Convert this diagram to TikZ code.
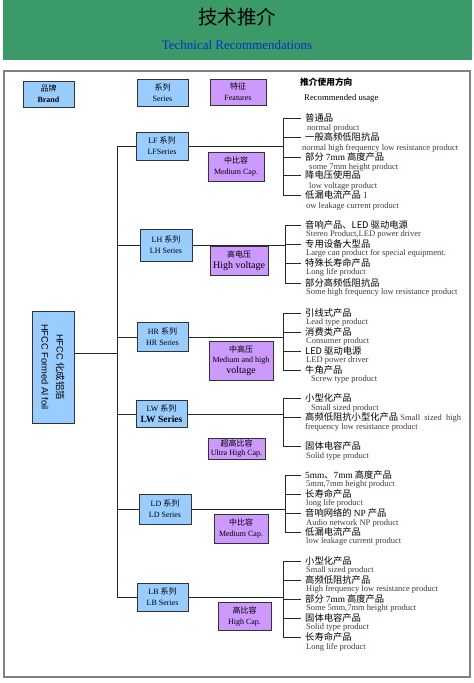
\documentclass[tikz,border=0pt]{standalone}
\usepackage{fontspec}
\setmainfont{Liberation Serif}
\setsansfont{Liberation Sans}
\newfontfamily\cjk{Noto Sans CJK SC}
\definecolor{bandeau}{RGB}{58,154,104}
\definecolor{titrebleu}{RGB}{0,51,204}
\definecolor{bleu}{RGB}{153,204,255}
\definecolor{mauve}{RGB}{204,153,255}
\definecolor{brun}{RGB}{72,56,46}
\begin{document}
\begin{tikzpicture}[x=1pt,y=-1pt]
\tikzset{serie/.style={draw=black!80, fill=bleu, line width=0.8pt, inner sep=0pt, align=center, font=\fontsize{8}{11}\selectfont}}
\tikzset{carac/.style={draw=black!80, fill=mauve, line width=0.8pt, inner sep=0pt, align=center, font=\fontsize{8}{11}\selectfont}}
\tikzset{zh/.style={anchor=west, inner sep=0pt, font=\cjk\fontsize{9.3}{10}\selectfont}}
\tikzset{en/.style={anchor=west, inner sep=0pt, text=brun, font=\fontsize{8.5}{9}\selectfont}}
\tikzset{trait/.style={line width=1pt, black!85}}
\tikzset{tic/.style={trait, shorten >=4pt}}
\useasboundingbox (0,0) rectangle (474,683);
\fill[bandeau] (3,0) rectangle (472,60);
\draw[black!50, line width=1.4pt] (4,71) rectangle (470,677);
\node[font=\cjk\fontsize{19.5}{20}\selectfont] (titre) at (237,17) {技术推介};
\node[text=titrebleu, font=\fontsize{13}{14}\selectfont] (soustitre) at (237,45) {Technical Recommendations};
\node[serie, minimum width=51pt, minimum height=26pt] (marque) at (48.5,94) {{\cjk 品牌}\\\textbf{Brand}};
\node[serie, minimum width=51pt, minimum height=27pt] (series) at (162.5,92.5) {{\cjk 系列}\\Series};
\node[carac, minimum width=56pt, minimum height=26pt] (traits) at (238,92) {{\cjk 特征}\\Features};
\node[zh, font=\cjk\bfseries\fontsize{8.7}{9}\selectfont] (usage) at (300,82) {推介使用方向};
\node[en, text=black, font=\fontsize{8.7}{9}\selectfont] (usageen) at (304,98) {Recommended usage};
\node[serie, rotate=-90, minimum width=112pt, minimum height=42pt, font=\sffamily\fontsize{9.3}{15}\selectfont] (HFCC) at (53,367) {HFCC {\cjk 化成铝箔}\\HFCC Formed Al foil};
\coordinate (tronc) at (117,353);
\node[serie, minimum width=52pt, minimum height=28pt] (LF) at (162,146) {LF {\cjk 系列}\\LFSeries};
\node[serie, minimum width=52pt, minimum height=32pt] (LH) at (166,245) {LH {\cjk 系列}\\LH Series};
\node[serie, minimum width=51pt, minimum height=29pt] (HR) at (162.5,337) {HR {\cjk 系列}\\HR Series};
\node[serie, minimum width=51pt, minimum height=27pt] (LW) at (161.5,414) {LW {\cjk 系列}\\{\fontsize{9.5}{11}\selectfont\bfseries LW Series}};
\node[serie, minimum width=52pt, minimum height=30pt] (LD) at (165,509) {LD {\cjk 系列}\\LD Series};
\node[serie, minimum width=51pt, minimum height=28pt] (LB) at (162.5,597) {LB {\cjk 系列}\\LB Series};
\node[carac, minimum width=56pt, minimum height=29pt] (LFc) at (236,166.5) {{\cjk 中比容}\\Medium Cap.};
\node[carac, minimum width=58pt, minimum height=29pt] (LHc) at (239,260.5) {{\cjk 高电压}\\{\fontsize{10}{12}\selectfont High voltage}};
\node[carac, minimum width=64pt, minimum height=39pt, font=\fontsize{8}{10.5}\selectfont] (HRc) at (241,360.5) {{\cjk 中高压}\\Medium and high\\{\fontsize{10}{10.5}\selectfont voltage}};
\node[carac, minimum width=57pt, minimum height=21pt, font=\fontsize{8}{9.5}\selectfont] (LWc) at (236.5,448.5) {{\cjk 超高比容}\\Ultra High Cap.};
\node[carac, minimum width=54pt, minimum height=29pt] (LDc) at (241,528.5) {{\cjk 中比容}\\Medium Cap.};
\node[carac, minimum width=53pt, minimum height=28pt] (LBc) at (244.5,616) {{\cjk 高比容}\\High Cap.};
\coordinate (LFb) at (283,146);
\coordinate (LHb) at (285,245);
\coordinate (HRb) at (283,337);
\coordinate (LWb) at (283,414);
\coordinate (LDb) at (285,509);
\coordinate (LBb) at (283,597);
\node[zh] (LF1) at (305,118) {普通品};
\node[en] (LF1e) at (307,128) {normal product};
\node[zh] (LF2) at (305,137) {一般高频低阻抗品};
\node[en] (LF2e) at (302,148) {normal high frequency low resistance product};
\node[zh] (LF3) at (305,157) {部分 {\rmfamily 7mm} 高度产品};
\node[en] (LF3e) at (309,167) {some 7mm height product};
\node[zh] (LF4) at (305,175) {降电压使用品};
\node[en] (LF4e) at (309,186) {low voltage product};
\node[zh] (LF5) at (305,195) {低漏电流产品 {\rmfamily\color{brun}1}};
\node[en] (LF5e) at (306,206) {ow leakage current product};
\node[zh] (LH1) at (305,225) {音响产品、LED 驱动电源};
\node[en] (LH1e) at (306,234) {Stereo Product,LED power driver};
\node[zh] (LH2) at (305,244) {专用设备大型品};
\node[en] (LH2e) at (306,253) {Large can product for special equipment.};
\node[zh] (LH3) at (305,263) {特殊长寿命产品};
\node[en] (LH3e) at (306,272) {Long life product};
\node[zh] (LH4) at (305,283) {部分高频低阻抗品};
\node[en] (LH4e) at (306,292) {Some high frequency low resistance product};
\node[zh] (HR1) at (305,313) {引线式产品};
\node[en] (HR1e) at (306,322) {Lead type product};
\node[zh] (HR2) at (305,332) {消费类产品};
\node[en] (HR2e) at (306,341) {Consumer product};
\node[zh] (HR3) at (305,351) {LED 驱动电源};
\node[en] (HR3e) at (306,360) {LED power driver};
\node[zh] (HR4) at (305,370) {牛角产品};
\node[en] (HR4e) at (311,379) {Screw type product};
\node[zh] (LW1) at (305,398) {小型化产品};
\node[en] (LW1e) at (311,408) {Small sized product};
\node[zh] (LW2) at (305,417) {高频低阻抗小型化产品 {\rmfamily\color{brun}\fontsize{8.5}{9}\selectfont Small\ \ sized\ \ high}};
\node[en] (LW2e) at (305,427) {frequency low resistance product};
\node[zh] (LW3) at (305,446) {固体电容产品};
\node[en] (LW3e) at (306,456) {Solid type product};
\node[zh] (LD1) at (305,475) {{\rmfamily 5mm}、{\rmfamily 7mm} 高度产品};
\node[en] (LD1e) at (306,484) {5mm,7mm height product};
\node[zh] (LD2) at (305,494) {长寿命产品};
\node[en] (LD2e) at (306,503) {long life product};
\node[zh] (LD3) at (305,513) {音响网络的 {\rmfamily NP} 产品};
\node[en] (LD3e) at (306,523) {Audio network NP product};
\node[zh] (LD4) at (305,532) {低漏电流产品};
\node[en] (LD4e) at (306,541) {low leakage current product};
\node[zh] (LB1) at (305,561) {小型化产品};
\node[en] (LB1e) at (306,570) {Small sized product};
\node[zh] (LB2) at (305,580) {高频低阻抗产品};
\node[en] (LB2e) at (306,589) {High frequency low resistance product};
\node[zh] (LB3) at (305,599) {部分 {\rmfamily 7mm} 高度产品};
\node[en] (LB3e) at (306,608) {Some 5mm,7mm height product};
\node[zh] (LB4) at (305,618) {固体电容产品};
\node[en] (LB4e) at (306,627) {Solid type product};
\node[zh] (LB5) at (305,637) {长寿命产品};
\node[en] (LB5e) at (306,647) {Long life product};
\draw[trait] ([yshift=14pt]HFCC.north) -- (tronc);
\draw[trait] (LF.west -| tronc) -- (LB.west -| tronc);
\draw[trait] (LF.west -| tronc) -- (LF.west);
\draw[trait] (LH.west -| tronc) -- (LH.west);
\draw[trait] (HR.west -| tronc) -- (HR.west);
\draw[trait] (LW.west -| tronc) -- (LW.west);
\draw[trait] (LD.west -| tronc) -- (LD.west);
\draw[trait] (LB.west -| tronc) -- (LB.west);
\draw[trait] (LF.east) -- (LFb);
\draw[trait] (LH.east) -- (LHb);
\draw[trait] (HR.east) -- (HRb);
\draw[trait] (LW.east) -- (LWb);
\draw[trait] (LD.east) -- (LDb);
\draw[trait] (LB.east) -- (LBb);
\draw[trait] (LF1.west -| LFb) -- (LF5.west -| LFb);
\draw[trait] (LH1.west -| LHb) -- (LH4.west -| LHb);
\draw[trait] (HR1.west -| HRb) -- (HR4.west -| HRb);
\draw[trait] (LW1.west -| LWb) -- (LW3.west -| LWb);
\draw[trait] (LD1.west -| LDb) -- (LD4.west -| LDb);
\draw[trait] (LB1.west -| LBb) -- (LB5.west -| LBb);
\draw[tic] (LF1.west -| LFb) -- (LF1.west);
\draw[tic] (LF2.west -| LFb) -- (LF2.west);
\draw[tic] (LF3.west -| LFb) -- (LF3.west);
\draw[tic] (LF4.west -| LFb) -- (LF4.west);
\draw[tic] (LF5.west -| LFb) -- (LF5.west);
\draw[tic] (LH1.west -| LHb) -- (LH1.west);
\draw[tic] (LH2.west -| LHb) -- (LH2.west);
\draw[tic] (LH3.west -| LHb) -- (LH3.west);
\draw[tic] (LH4.west -| LHb) -- (LH4.west);
\draw[tic] (HR1.west -| HRb) -- (HR1.west);
\draw[tic] (HR2.west -| HRb) -- (HR2.west);
\draw[tic] (HR3.west -| HRb) -- (HR3.west);
\draw[tic] (HR4.west -| HRb) -- (HR4.west);
\draw[tic] (LW1.west -| LWb) -- (LW1.west);
\draw[tic] (LW2.west -| LWb) -- (LW2.west);
\draw[tic] (LW3.west -| LWb) -- (LW3.west);
\draw[tic] (LD1.west -| LDb) -- (LD1.west);
\draw[tic] (LD2.west -| LDb) -- (LD2.west);
\draw[tic] (LD3.west -| LDb) -- (LD3.west);
\draw[tic] (LD4.west -| LDb) -- (LD4.west);
\draw[tic] (LB1.west -| LBb) -- (LB1.west);
\draw[tic] (LB2.west -| LBb) -- (LB2.west);
\draw[tic] (LB3.west -| LBb) -- (LB3.west);
\draw[tic] (LB4.west -| LBb) -- (LB4.west);
\draw[tic] (LB5.west -| LBb) -- (LB5.west);
\end{tikzpicture}
\end{document}
